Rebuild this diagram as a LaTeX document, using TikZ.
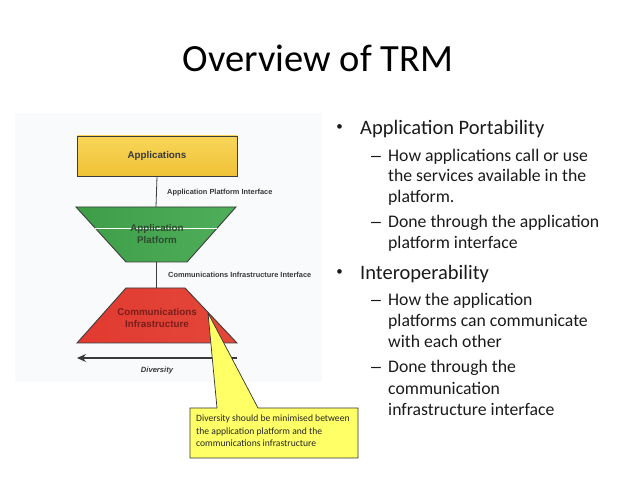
\documentclass[tikz,border=0pt]{standalone}
\usepackage{fontspec}
\setmainfont{Carlito}
\newfontfamily\arialfont{Liberation Sans}
\usetikzlibrary{positioning,arrows.meta}

\definecolor{figbg}{HTML}{F8FAFB}
\definecolor{edgegray}{HTML}{3C3C3C}
\definecolor{labelgray}{HTML}{383838}
\definecolor{notefill}{HTML}{FFFF66}
\definecolor{textblack}{HTML}{1A1A1A}
\definecolor{appstop}{HTML}{F8D65A}
\definecolor{appsbot}{HTML}{F0C236}
\definecolor{platleft}{HTML}{3E9E48}
\definecolor{platmid}{HTML}{A6D6A2}
\definecolor{platright}{HTML}{4FAE5A}
\definecolor{platname}{HTML}{2E4A30}
\definecolor{commleft}{HTML}{E23A30}
\definecolor{commmid}{HTML}{F28672}
\definecolor{commright}{HTML}{E3473A}
\definecolor{commname}{HTML}{7A1E1A}

\begin{document}
\begin{tikzpicture}[x=1pt,y=-1pt]
\tikzstyle{every node}+=[inner sep=0pt]
\tikzstyle{layer}=[draw=edgegray, line width=0.9pt]
\tikzstyle{layername}=[font=\arialfont\bfseries\fontsize{9.8}{12}\selectfont, align=center]
\tikzstyle{iface}=[font=\arialfont\bfseries\fontsize{7.4}{9}\selectfont, text=labelgray, anchor=west]
\tikzstyle{linkline}=[draw=edgegray, line width=0.8pt]
\tikzstyle{bigtext}=[font=\fontsize{20.5}{24}\selectfont, text=textblack, anchor=base west]
\tikzstyle{subtext}=[font=\fontsize{17.7}{21}\selectfont, text=textblack, anchor=base west]
\useasboundingbox (0,0) rectangle (638,478);
% title
\node[font=\fontsize{38.5}{44}\selectfont, anchor=base] (title) at (318,72) {Overview of TRM};
% figure background
\fill[figbg] (15,113) rectangle (322,382);
% applications
\node[layer, minimum width=160pt, minimum height=40pt, top color=appstop, bottom color=appsbot, text=labelgray, layername] (apps) at (157,156) {Applications};
% application platform
\coordinate (plattop) at (156,207);
\coordinate (platbot) at (156,262);
\draw[layer, left color=platleft, middle color=platmid, right color=platright] (76,207) -- (236,207) -- (187,262) -- (126,262) -- cycle;
\draw[white, line width=0.7pt] (95,228) -- (217,228);
\node[layername, text=platname] (platname) at (157,234) {Application\\Platform};
% communications infrastructure
\coordinate (commtop) at (156,288);
\draw[layer, left color=commleft, middle color=commmid, right color=commright] (126,288) -- (185,288) -- (237,343) -- (77,343) -- cycle;
\node[layername, text=commname] (commname) at (157,318) {Communications\\Infrastructure};
% interfaces
\draw[linkline] (apps.south) -- (plattop);
\draw[linkline] (platbot) -- (commtop);
\node[iface] (api) at (167,193) {Application Platform Interface};
\node[iface] (cii) at (168,275) {Communications Infrastructure Interface};
% diversity
\coordinate (divR) at (237,358);
\coordinate (divL) at (77,358);
\draw[draw=labelgray, line width=1.2pt, -{Stealth[length=9pt,width=8pt]}] (divR) -- (divL);
\node[font=\arialfont\bfseries\itshape\fontsize{7.6}{9}\selectfont, text=labelgray] (div) at (157,371) {Diversity};
% note
\coordinate (tip) at (208,313);
\draw[fill=notefill, draw=black!80, line width=0.7pt] (190,408) -- (217,408) -- (tip) -- (258,408) -- (358,408) -- (358,458) -- (190,458) -- cycle;
\node[anchor=north west, align=left, font=\fontsize{9.6}{12.2}\selectfont, text=black!85] (note) at (196,415) {Diversity should be minimised between\\the application platform and the\\communications infrastructure};
% bullets
\node[bigtext, font=\arialfont\fontsize{17}{20}\selectfont] (dot1) at (336.5,133) {•};
\node[bigtext] (port) at (360,135) {Application Portability};
\node[bigtext, font=\arialfont\fontsize{17}{20}\selectfont] (dot2) at (336.5,278) {•};
\node[bigtext] (inter) at (360,280) {Interoperability};
\foreach \y [count=\i] in {161.7,228,306,373}
  \node[subtext, font=\arialfont\fontsize{17.7}{21}\selectfont] (dash\i) at (371,\y) {–};
\foreach \y/\t [count=\i] in {161.7/How applications call or use, 182/the services available in the, 202.7/platform., 228/Done through the application, 249/platform interface, 306/How the application, 327/platforms can communicate, 348/with each other, 373/Done through the, 395/communication, 416/infrastructure interface}
  \node[subtext] (sub\i) at (388,\y) {\t};
\end{tikzpicture}
\end{document}
